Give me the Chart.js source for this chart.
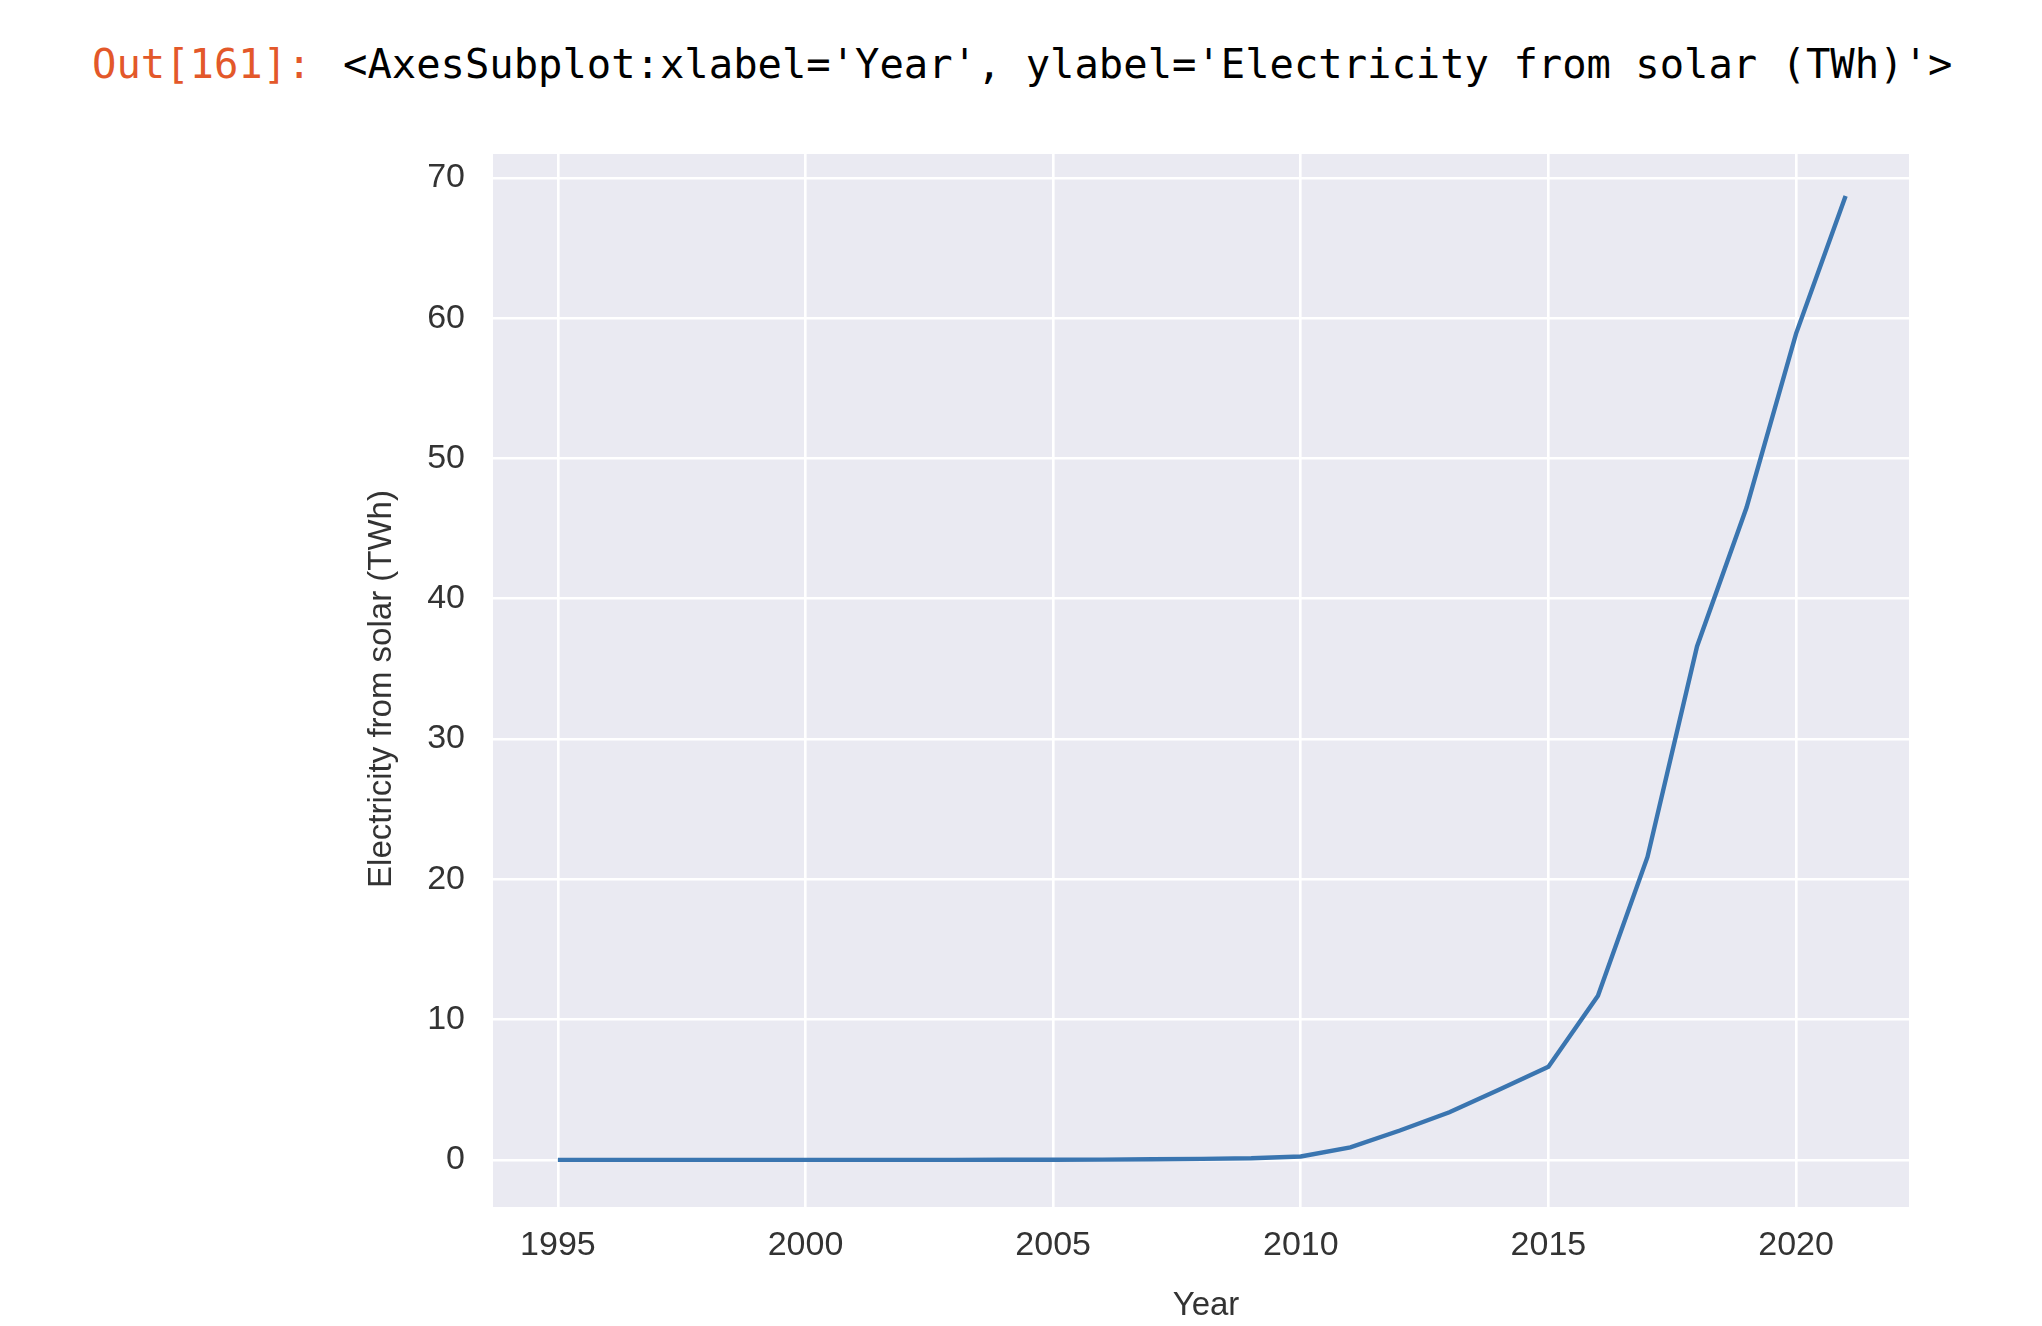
<!DOCTYPE html>
<html><head><meta charset="utf-8">
<script src="https://cdn.jsdelivr.net/npm/chart.js@4"></script>
<style>
html,body{margin:0;padding:0;background:#fff;width:2042px;height:1326px;overflow:hidden}
.hdr{position:absolute;top:40px;font:40.5px "DejaVu Sans Mono",monospace;white-space:pre;color:#000}
#h1{left:92px;color:#E3582A}
#h2{left:343px}
#wrap{position:absolute;left:0;top:0;width:2042px;height:1326px}
</style></head><body>
<div class="hdr" id="h1">Out[161]:</div>
<div class="hdr" id="h2">&lt;AxesSubplot:xlabel='Year', ylabel='Electricity from solar (TWh)'&gt;</div>
<div id="wrap"><canvas id="c"></canvas></div>
<script>
const years = [1995,1996,1997,1998,1999,2000,2001,2002,2003,2004,2005,2006,2007,2008,2009,2010,2011,2012,2013,2014,2015,2016,2017,2018,2019,2020,2021];
const solarTWh = [0.01,0.01,0.01,0.01,0.01,0.01,0.01,0.01,0.01,0.02,0.02,0.03,0.05,0.08,0.12,0.25,0.9,2.1,3.4,5.0,6.65,11.7,21.6,36.6,46.5,58.9,68.7];
const xTicks = [1995,2000,2005,2010,2015,2020];
const yTicks = [0,10,20,30,40,50,60,70];
const xLabel = 'Year';
const yLabel = 'Electricity from solar (TWh)';

const bg = {id:'bg',beforeDraw(c){const a=c.chartArea,x=c.ctx;x.save();x.fillStyle='#EAEAF2';x.fillRect(a.left,a.top,a.right-a.left,a.bottom-a.top);x.restore();},
 afterDraw(c){const x=c.ctx;x.save();x.fillStyle='#333';x.font='33px "Liberation Sans",Arial';x.textAlign='center';x.textBaseline='middle';
  x.fillText(xLabel,1206,1306);x.translate(382,689);x.rotate(-Math.PI/2);x.fillText(yLabel,0,0);x.restore();}};

new Chart(document.getElementById('c'),{type:'line',
 data:{datasets:[{data:years.map((y,i)=>({x:y,y:solarTWh[i]})),borderColor:'#3A75B0',borderWidth:4.4,pointRadius:0,tension:0}]},
 options:{responsive:true,maintainAspectRatio:false,animation:false,
  layout:{padding:{left:0,top:154,right:133,bottom:0}},
  plugins:{legend:{display:false},tooltip:{enabled:false}},
  scales:{
   x:{type:'linear',min:1993.69,max:2022.28,afterFit(s){s.height=119;},
      afterBuildTicks(s){s.ticks=xTicks.map(v=>({value:v}));},
      ticks:{padding:18,color:'#333',font:{family:'"Liberation Sans",Arial',size:34},callback:v=>String(v)},
      grid:{color:'#ffffff',lineWidth:2.6,drawTicks:false},border:{display:false}},
   y:{min:-3.35,max:71.7,afterFit(s){s.width=493;},
      afterBuildTicks(s){s.ticks=yTicks.map(v=>({value:v}));},
      ticks:{padding:28,color:'#333',font:{family:'"Liberation Sans",Arial',size:34},callback:v=>String(v)},
      grid:{color:'#ffffff',lineWidth:2.6,drawTicks:false},border:{display:false}}
  }},plugins:[bg]});
</script></body></html>
